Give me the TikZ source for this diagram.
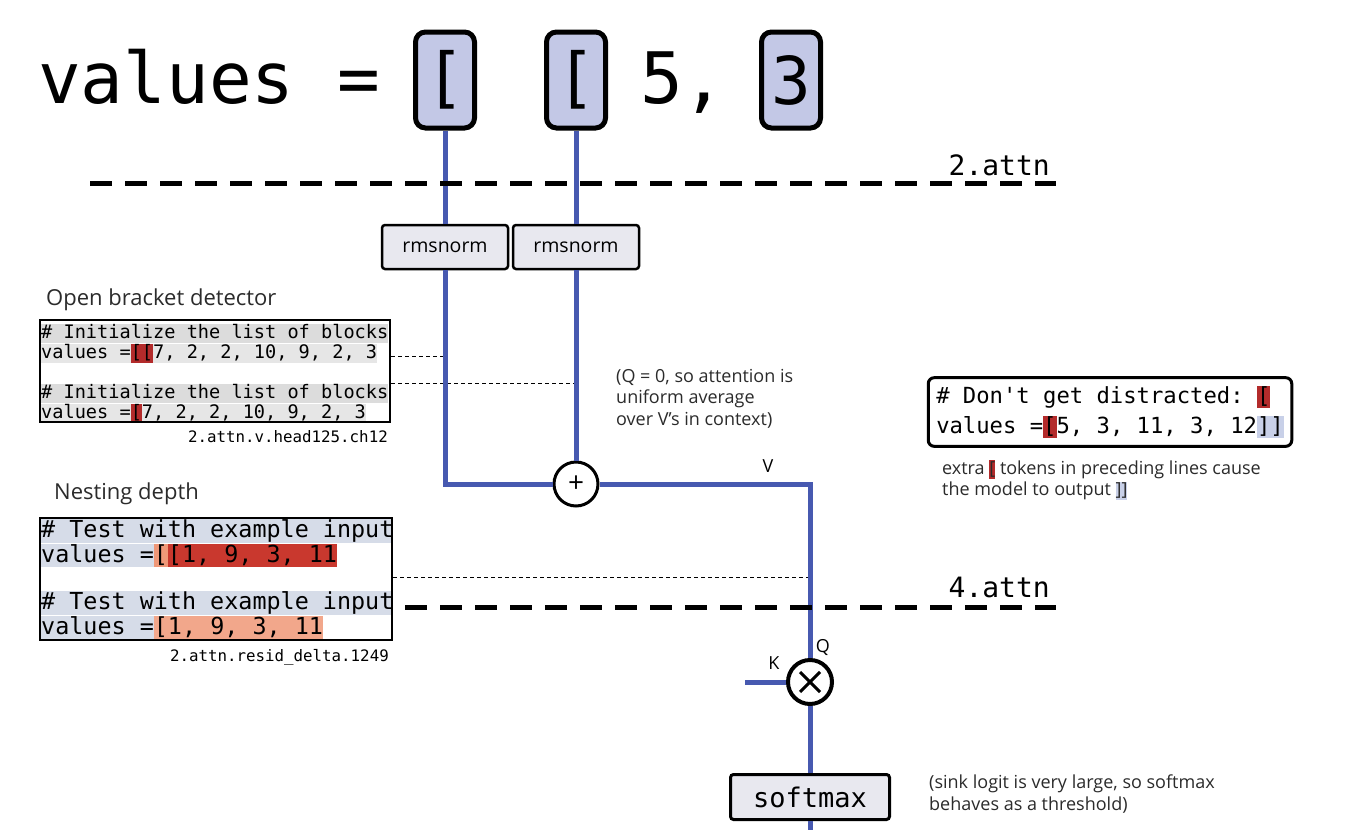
\documentclass[tikz,border=0pt]{standalone}
\usepackage{fontspec}
\setmainfont{Open Sans}
\setmonofont{DejaVu Sans Mono}
\usepackage{tikz}
\usetikzlibrary{calc,positioning}

\definecolor{wireblue}{HTML}{4759B0}
\definecolor{tokfill}{HTML}{C3C8E6}
\definecolor{normfill}{HTML}{E8E8EF}
\definecolor{hired}{HTML}{B32B2B}
\definecolor{hidark}{HTML}{C9382E}
\definecolor{hipeach}{HTML}{EF9878}
\definecolor{hisalmon}{HTML}{F2A78B}
\definecolor{codegray}{HTML}{DCDCDC}
\definecolor{codeblue}{HTML}{D6DCE8}
\definecolor{hiblue}{HTML}{C8D0E8}
\definecolor{inkgray}{HTML}{2B2B2B}

% highlighted token, one code line high
\newcommand{\tokhl}[2]{{\setlength{\fboxsep}{0pt}\colorbox{#1}{\rule[-0.23em]{0pt}{1.02em}#2}}}

\begin{document}
\begin{tikzpicture}[x=1pt, y=-1pt,
    wire/.style={wireblue, line width=5pt},
    layerline/.style={black, line width=5pt, dash pattern=on 22pt off 13pt},
    tapline/.style={black, line width=0.8pt, dash pattern=on 4pt off 3pt},
    headtext/.style={inner sep=0pt, font=\ttfamily\fontsize{71}{72}\selectfont},
    tokbox/.style={draw, line width=5pt, rounded corners=10pt, fill=tokfill,
        minimum width=59pt, minimum height=96pt, inner sep=0pt,
        font=\ttfamily\fontsize{66}{70}\selectfont},
    normbox/.style={draw, line width=2.5pt, rounded corners=3pt, fill=normfill,
        minimum width=126pt, minimum height=44pt, inner sep=0pt,
        font=\fontsize{19.5}{22}\selectfont},
    softbox/.style={draw, line width=3pt, rounded corners=3pt, fill=normfill,
        minimum width=159pt, minimum height=45pt, inner sep=0pt,
        font=\ttfamily\fontsize{27}{30}\selectfont},
    opcircle/.style={circle, draw, line width=3pt, fill=white, minimum size=44pt, inner sep=0pt},
    layertext/.style={inner sep=0pt, anchor=base east, font=\ttfamily\fontsize{28}{30}\selectfont},
    wiretext/.style={inner sep=0pt, font=\fontsize{18}{20}\selectfont},
    notetext/.style={inner sep=0pt, anchor=north west, align=left, text=inkgray,
        font=\fontsize{18}{21.5}\selectfont},
    titletext/.style={inner sep=0pt, anchor=west, text=inkgray, font=\fontsize{22}{26}\selectfont},
    tracetext/.style={inner sep=0pt, anchor=north east, font=\ttfamily\fontsize{15.8}{18}\selectfont},
    obdline/.style={anchor=north west, inner sep=0pt, text height=14.7pt, text depth=4.3pt,
        font=\ttfamily\fontsize{18.6}{19}\selectfont},
    nestline/.style={anchor=north west, inner sep=0pt, text height=18.5pt, text depth=5.4pt,
        font=\ttfamily\fontsize{23.4}{24}\selectfont},
    codeframe/.style={draw, line width=2pt, inner sep=0pt}
]
    \useasboundingbox (0,0) rectangle (1350,830);
    \fill[white] (0,0) rectangle (1350,830);

    % Input tokens
    \node[headtext, anchor=base west] (vals) at (38,103) {values =};
    \node[tokbox] (tokA) at (445,80) {[};
    \node[tokbox] (tokB) at (576,80) {[};
    \node[headtext, anchor=base west] (five) at (640,103) {5,};
    \node[tokbox] (tokC) at (791,80) {3};

    % Blocks on the wires
    \node[normbox] (normA) at (445,247) {rmsnorm};
    \node[normbox] (normB) at (576,247) {rmsnorm};
    \node[opcircle, font=\fontsize{28}{28}\selectfont] (plus) at (576,484) {+};
    \node[opcircle, line width=4pt] (times) at (810,682) {};
    \node[softbox] (soft) at (810,797) {softmax};
    \coordinate (kin) at (745,682);
    \coordinate (vout) at (810,830);

    % Code snippets
    \node[titletext] (obdtitle) at (46,300) {Open bracket detector};
    \node[obdline, fill=codegray] (obdA) at (41,324) {\# Initialize the list of blocks};
    \node[obdline, fill=codegray!70] (obdB) at (obdA.south west) {values =\tokhl{hired}{[[}7, 2, 2, 10, 9, 2, 3\ };
    \node[obdline, fill=codegray] (obdC) at (41,384) {\# Initialize the list of blocks};
    \node[obdline, fill=codegray!70] (obdD) at (obdC.south west) {values =\tokhl{hired}{[}7, 2, 2, 10, 9, 2, 3\ };
    \node[codeframe, minimum width=350pt, minimum height=102pt] (obdbox) at (215,371) {};
    \node[tracetext] (obdtrace) at (388,430) {2.attn.v.head125.ch12};

    \node[titletext] (nesttitle) at (54,494) {Nesting depth};
    \node[nestline, fill=codeblue] (nestA) at (41,519) {\# Test with example input};
    \node[nestline, fill=codeblue] (nestB) at (nestA.south west) {values =\tokhl{hipeach}{[}\tokhl{hidark}{[1, 9, 3, 11}};
    \node[nestline, fill=codeblue] (nestC) at (41,591) {\# Test with example input};
    \node[nestline, fill=codeblue] (nestD) at (nestC.south west) {values =\tokhl{hisalmon}{[1, 9, 3, 11}};
    \node[codeframe, minimum width=352pt, minimum height=122pt] (nestbox) at (216,579) {};
    \node[tracetext] (nesttrace) at (389,649) {2.attn.resid\_delta.1249};

    \node[draw, line width=3pt, rounded corners=6pt, align=left, inner xsep=8pt, inner ysep=8pt,
        font=\ttfamily\fontsize{22.2}{30}\selectfont] (distract) at (1110,412)
        {\# Don't get distracted: \tokhl{hired}{[}\\values =\tokhl{hired}{[}5, 3, 11, 3, 12\tokhl{hiblue}{]]}};

    % Notes
    \node[notetext] (qnote) at (616,369) {(Q = 0, so attention is\\uniform average\\over V's in context)};
    \node[notetext] (extranote) at (942,460) {extra \tokhl{hired}{[} tokens in preceding lines cause\\the model to output \tokhl{hiblue}{]]}};
    \node[notetext] (sinknote) at (929,775) {(sink logit is very large, so softmax\\behaves as a threshold)};

    % Taps from snippets to wires
    \coordinate (tapA) at (445,356);
    \coordinate (tapB) at (576,383);
    \coordinate (tapC) at (810,577);
    \draw[tapline] (obdbox.east |- tapA) -- (tapA);
    \draw[tapline] (obdbox.east |- tapB) -- (tapB);
    \draw[tapline] (nestbox.east |- tapC) -- (tapC);

    % Wires
    \draw[wire] (tokA.south) -- (normA.north);
    \draw[wire] (tokB.south) -- (normB.north);
    \draw[wire] (normA.south) |- (plus.west);
    \draw[wire] (normB.south) -- (plus.north);
    \draw[wire] (plus.east) -| (times.north);
    \draw[wire] (kin) -- (times.west);
    \draw[wire] (times.south) -- (soft.north);
    \draw[wire] (soft.south) -- (vout);
    \draw[line width=3pt] ($(times.center)+(-10,-10)$) -- ($(times.center)+(10,10)$);
    \draw[line width=3pt] ($(times.center)+(-10,10)$) -- ($(times.center)+(10,-10)$);
    \node[wiretext] (vlabel) at (768,466) {V};
    \node[wiretext] (qlabel) at (823,647) {Q};
    \node[wiretext] (klabel) at (774,663) {K};

    % Layer boundaries
    \coordinate (layerAL) at (90,183);
    \coordinate (layerAR) at (1056,183);
    \coordinate (layerBL) at (405,607);
    \coordinate (layerBR) at (1056,607);
    \draw[layerline] (layerAL) -- (layerAR);
    \draw[layerline] (layerBL) -- (layerBR);
    \node[layertext] (layerA) at (1050,175) {2.attn};
    \node[layertext] (layerB) at (1050,597) {4.attn};
\end{tikzpicture}
\end{document}
